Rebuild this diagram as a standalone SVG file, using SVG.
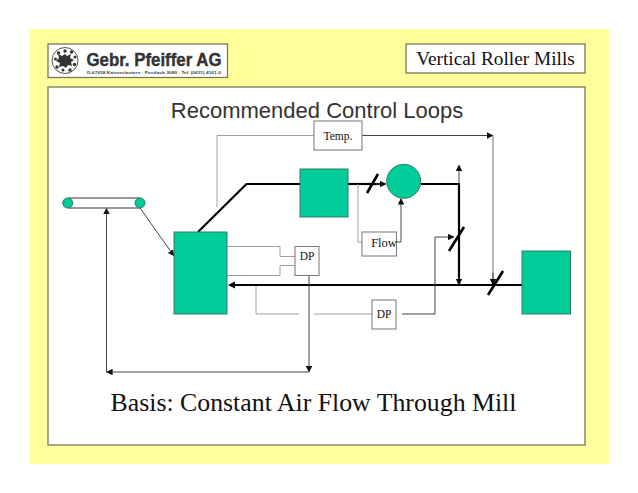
<svg xmlns="http://www.w3.org/2000/svg" width="638" height="493" viewBox="0 0 638 493">
<style>
.frame{fill:#fff;stroke:#77775a;stroke-width:1.300}
.box{fill:#fff;stroke:#777;stroke-width:1}
.green{fill:#00cc99;stroke:#2f7f6a;stroke-width:1}
.thick{fill:none;stroke:#000;stroke-width:2.200}
.thin{fill:none;stroke:#444;stroke-width:1}
.grey{fill:none;stroke:#a0a0a0;stroke-width:1}
.sans{font-family:"Liberation Sans",Arial,sans-serif}
.serif{font-family:"Liberation Serif","Times New Roman",serif;fill:#111}
.lbl{font-size:11.500px;text-anchor:middle}
</style>
<defs>
<marker id="a" viewBox="0 0 8 8" refX="7.500" refY="4" markerWidth="6.500" markerHeight="6.500" markerUnits="userSpaceOnUse" orient="auto"><path d="M0 0L8 4L0 8Z" fill="#111"/></marker>
</defs>
<rect width="638" height="493" fill="#fff"/>
<rect x="29" y="29" width="580" height="435" fill="#ffff99"/>
<g id="logo">
<rect class="frame" x="48" y="44" width="179.500" height="33.500"/>
<circle cx="65" cy="60.500" r="13" fill="#fff" stroke="#555" stroke-width="1"/>
<path d="M65 54L67 56L71 54L70 58L74 60L71 62L72 66L68 65L66 68L63 66L59 67L60 63L56 61L59 58L58 54L62 56Z" fill="#333"/>
<g fill="#333"><circle cx="65" cy="51" r="1.700"/><circle cx="71.500" cy="52" r="1.700"/><circle cx="75" cy="57" r="1.500"/><circle cx="74.500" cy="64.500" r="1.700"/><circle cx="70" cy="70" r="1.700"/><circle cx="63" cy="70" r="1.500"/><circle cx="57" cy="67" r="1.700"/><circle cx="55.500" cy="59" r="1.500"/><circle cx="58.500" cy="53" r="1.700"/></g>
<text class="sans" x="86.500" y="66" font-size="17.700" font-weight="bold" fill="#333" stroke="#333" stroke-width=".4" textLength="135" lengthAdjust="spacingAndGlyphs">Gebr. Pfeiffer AG</text>
<text class="sans" x="87" y="74" font-size="4" font-weight="bold" fill="#444" textLength="134" lengthAdjust="spacingAndGlyphs">D-67658 Kaiserslautern · Postfach 3080 · Tel. (0631) 4161-0</text>
</g>
<g id="title-box">
<rect class="frame" x="406" y="44" width="179" height="29"/>
<text class="serif" x="495.500" y="65" font-size="19.300" text-anchor="middle">Vertical Roller Mills</text>
</g>
<g id="panel"><rect class="frame" x="48" y="87" width="537" height="358"/></g>
<text class="sans" x="317" y="117.500" font-size="22" text-anchor="middle" fill="#333">Recommended Control Loops</text>
<text class="serif" x="313.500" y="411" font-size="25.800" text-anchor="middle">Basis: Constant Air Flow Through Mill</text>
<g id="connectors">
<path class="grey" d="M217 207V135.500H314"/>
<path class="thin" d="M362 135.500H493" marker-end="url(#a)"/>
<path d="M493 135.500V285" fill="none" stroke="#888" stroke-width="1.200"/>
<path class="thin" d="M493 273V285" marker-end="url(#a)"/>
<path class="thick" d="M198 232L246.500 184H300"/>
<path class="thick" d="M348 184H380"/>
<path class="thin" d="M376 184H386" marker-end="url(#a)"/>
<path class="thick" d="M421 184H459V285"/>
<path class="thin" d="M459 184V165" marker-end="url(#a)"/>
<path class="thin" d="M459 277V285" marker-end="url(#a)"/>
<path class="thick" d="M522 285H232"/>
<path d="M235 281.500L228 285L235 288.500Z" fill="#000"/>
<path class="grey" d="M358 184V242H362"/>
<path class="thin" d="M396 242H401V198.500" marker-end="url(#a)"/>
<path class="grey" d="M227 246.500H280V256.500H295"/>
<path class="grey" d="M227 275.500H280V265.500H295"/>
<path class="grey" d="M256 286V314H299M314 314H372"/>
<path class="thin" d="M402 314H435V237H454" marker-end="url(#a)"/>
<path class="thin" d="M309 276V372" marker-end="url(#a)"/>
<path class="thin" d="M309 372H106.500" marker-end="url(#a)"/>
<path class="thin" d="M106.500 372V208" marker-end="url(#a)"/>
<path class="thin" d="M140 208L174 256" marker-end="url(#a)"/>
<path d="M367 193L378 174M449 251L464 227M488 295L503 271" fill="none" stroke="#000" stroke-width="2.600"/>
</g>
<g id="conveyor">
<path d="M68 198H140M68 208H140" fill="none" stroke="#777" stroke-width="1.500"/>
<circle class="green" cx="67.700" cy="203" r="5"/>
<circle class="green" cx="140" cy="203" r="5"/>
</g>
<g id="mill"><rect class="green" x="174" y="232" width="53" height="82"/></g>
<g id="cyclone"><rect class="green" x="300" y="169" width="48" height="48"/></g>
<g id="fan"><circle class="green" cx="403.700" cy="181.300" r="17"/></g>
<g id="filter"><rect class="green" x="522" y="251" width="48.500" height="63"/></g>
<g id="temp"><rect class="box" x="314" y="121" width="48" height="29"/><text class="serif lbl" x="338" y="140">Temp.</text></g>
<g id="flow"><rect class="box" x="362" y="232" width="34.500" height="24"/><text class="serif" x="384" y="247" font-size="12.500" text-anchor="middle">Flow</text></g>
<g id="dp1"><rect class="box" x="295" y="246.500" width="24" height="29"/><text class="serif lbl" x="307" y="259.500">DP</text></g>
<g id="dp2"><rect class="box" x="372" y="300" width="24" height="29"/><text class="serif lbl" x="384" y="318">DP</text></g>
</svg>
